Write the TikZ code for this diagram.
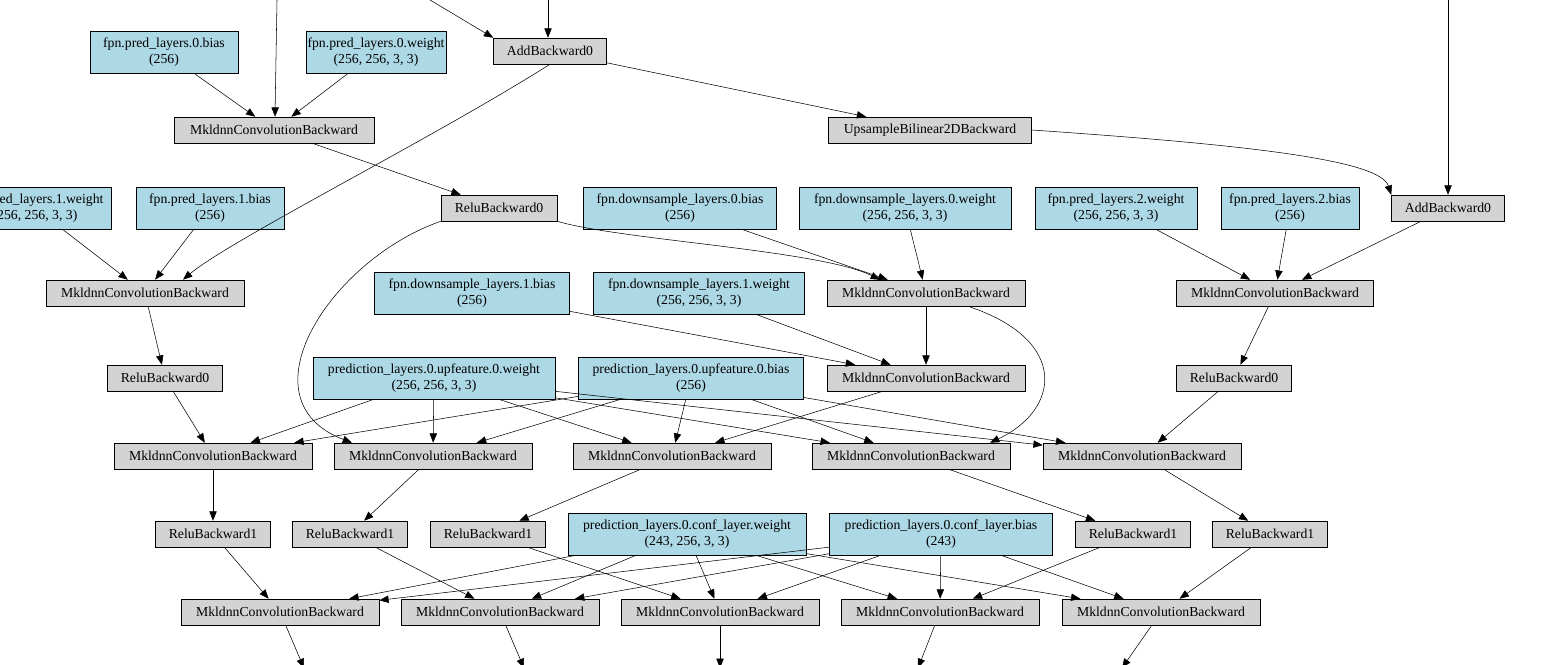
\documentclass[tikz,border=0pt]{standalone}
\usepackage{fontspec}
\setmainfont{Liberation Serif}
\usetikzlibrary{arrows.meta}
\definecolor{lblue}{RGB}{173,216,230}
\definecolor{lgray}{RGB}{211,211,211}
\begin{document}
\begin{tikzpicture}[x=0.75pt,y=-0.75pt,font=\fontsize{10.3}{11.5}\selectfont,
  box/.style={draw,inner sep=0pt,minimum width={#1*0.75pt},align=center},
  op/.style={box=#1,fill=lgray,minimum height=19.5pt},
  par/.style={box=#1,fill=lblue,minimum height=31.5pt},
  e/.style={-{Triangle[length=7pt,width=5.5pt]}}]
\useasboundingbox (0,0) rectangle (1549,664);
\clip (0,0) rectangle (1549,664);
% top row
\node[op=113] (add0) at (550,51) {AddBackward0};
\node[par=148] (pb0) at (164,52) {fpn.pred\_layers.0.bias\\(256)};
\node[par=140] (pw0) at (376,52) {fpn.pred\_layers.0.weight\\(256, 256, 3, 3)};
\node[op=200] (mA) at (274,130) {MkldnnConvolutionBackward};
\node[op=203] (up) at (930,130) {UpsampleBilinear2DBackward};
% row 208
\node[op=116] (r0) at (499,208) {ReluBackward0};
\node[par=152] (pw1) at (35,208) {fpn.pred\_layers.1.weight\\(256, 256, 3, 3)};
\node[par=148] (pb1) at (210,208) {fpn.pred\_layers.1.bias\\(256)};
\node[par=193] (db0) at (680,208) {fpn.downsample\_layers.0.bias\\(256)};
\node[par=212] (dw0) at (905,208) {fpn.downsample\_layers.0.weight\\(256, 256, 3, 3)};
\node[par=162] (pw2) at (1116,208) {fpn.pred\_layers.2.weight\\(256, 256, 3, 3)};
\node[par=138] (pb2) at (1290,208) {fpn.pred\_layers.2.bias\\(256)};
\node[op=113] (add1) at (1448,208) {AddBackward0};
% row 293
\node[op=198] (mB) at (145,293) {MkldnnConvolutionBackward};
\node[op=198] (mC) at (926,293) {MkldnnConvolutionBackward};
\node[op=197] (mD) at (1275,293) {MkldnnConvolutionBackward};
\node[par=195] (db1) at (472,293) {fpn.downsample\_layers.1.bias\\(256)};
\node[par=211] (dw1) at (699,293) {fpn.downsample\_layers.1.weight\\(256, 256, 3, 3)};
% row 378
\node[op=115] (rB) at (165,378) {ReluBackward0};
\node[op=198] (mE) at (926,378) {MkldnnConvolutionBackward};
\node[op=115] (rD) at (1234,378) {ReluBackward0};
\node[par=242] (uw) at (434,378) {prediction\_layers.0.upfeature.0.weight\\(256, 256, 3, 3)};
\node[par=225] (ub) at (691,378) {prediction\_layers.0.upfeature.0.bias\\(256)};
% row 456
\foreach \n/\x in {1/213,2/433,3/672,4/911,5/1142}
  \node[op=198] (u\n) at (\x,456) {MkldnnConvolutionBackward};
% row 534
\foreach \n/\x in {1/213,2/350,3/488,4/1133,5/1270}
  \node[op=115] (s\n) at (\x,534) {ReluBackward1};
\node[par=238] (cw) at (687,534) {prediction\_layers.0.conf\_layer.weight\\(243, 256, 3, 3)};
\node[par=223] (cb) at (941,534) {prediction\_layers.0.conf\_layer.bias\\(243)};
% row 612
\foreach \n/\x in {1/280,2/500,3/720,4/940,5/1161}
  \node[op=198] (c\n) at (\x,612) {MkldnnConvolutionBackward};
% free ends
\coordinate (t1) at (277,0); \coordinate (t2) at (430,0);
\coordinate (t3) at (548,0); \coordinate (t4) at (1448,0);
\foreach \n/\x in {1/304,2/524,3/720,4/918,5/1122}
  \coordinate (b\n) at (\x,668);
% edges
\draw[e] (t1) -- (mA.north -| 275,0);
\draw[e] (t2) -- (add0.north west);
\draw[e] (t3) -- (add0.north -| 548,0);
\draw[e] (t4) -- (add1);
\draw[e] (pb0) -- (mA); \draw[e] (pw0) -- (mA);
\draw[e] (add0) -- (up);
\draw[e] (add0.south) .. controls (430,140) and (230,240) .. (mB.north -| 183,0);
\draw[e] (mA) -- (r0);
\draw[e] (up.east) .. controls (1250,145) and (1380,160) .. (add1.north west);
\draw[e] (add1) -- (mD); \draw[e] (pw2) -- (mD); \draw[e] (pb2) -- (mD);
\draw[e] (pw1) -- (mB); \draw[e] (pb1) -- (mB);
\draw[e] (r0.south east) .. controls (620,240) and (820,250) .. (mC.north -| 880,0);
\draw[e] (r0.south west) .. controls (330,260) and (240,400) .. (u2.north -| 352,0);
\draw[e] (db0) -- (mC); \draw[e] (dw0) -- (mC);
\draw[e] (mC) -- (mE);
\draw[e] (mC.south -| 968,0) .. controls (1070,340) and (1060,410) .. (u4.north -| 990,0);
\draw[e] (db1) -- (mE); \draw[e] (dw1) -- (mE);
\draw[e] (mB) -- (rB); \draw[e] (rB) -- (u1);
\draw[e] (mD) -- (rD); \draw[e] (rD) -- (u5);
\draw[e] (mE) -- (u3);
\foreach \n in {1,...,5} {\draw[e] (uw) -- (u\n); \draw[e] (ub) -- (u\n);}
\foreach \n in {1,...,5} {\draw[e] (u\n) -- (s\n); \draw[e] (s\n) -- (c\n);
  \draw[e] (cw) -- (c\n); \draw[e] (cb) -- (c\n); \draw[e] (c\n) -- (b\n);}
\end{tikzpicture}
\end{document}
